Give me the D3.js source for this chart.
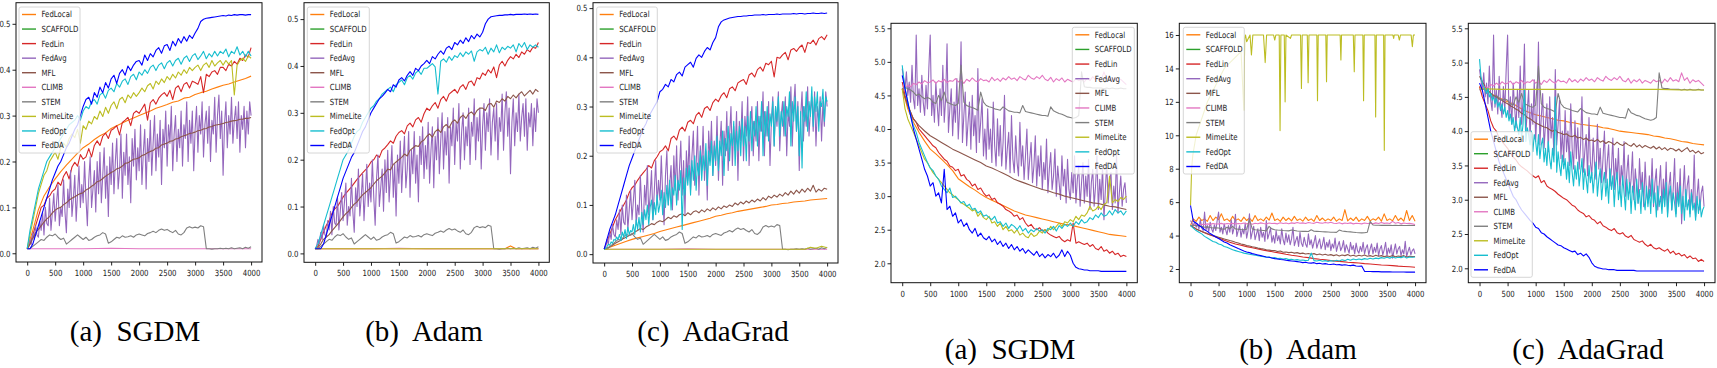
<!DOCTYPE html>
<html><head><meta charset="utf-8">
<script src="https://cdnjs.cloudflare.com/ajax/libs/d3/7.8.5/d3.min.js"></script>
<style>
body{margin:0;background:#fff}
svg{display:block}
.tick text{font-family:"DejaVu Sans",sans-serif;font-size:8.5px;fill:#222}
.leg text{font-family:"DejaVu Sans",sans-serif;font-size:8.5px;fill:#222}
.cap{font-family:"Liberation Serif","Times New Roman",serif;font-size:29px;fill:#000;white-space:pre}
</style></head>
<body><svg id="c" width="1717" height="368"></svg>
<script>
const methods = ["FedLocal","SCAFFOLD","FedLin","FedAvg","MFL","CLIMB","STEM","MimeLite","FedOpt","FedDA"];
const colors = ["#ff7f0e","#2ca02c","#d62728","#9467bd","#8c564b","#e377c2","#7f7f7f","#bcbd22","#17becf","#0000ff"];
const xTicks = [0,500,1000,1500,2000,2500,3000,3500,4000];
const accTicks = [0,0.1,0.2,0.3,0.4,0.5];
const lossTicks = [2,2.5,3,3.5,4,4.5,5,5.5];
const lossTicksWide = [2,4,6,8,10,12,14,16];
const captions = ["(a)  SGDM","(b)  Adam","(c)  AdaGrad"];
const lastIter = 4000;

// ---------- accuracy (shared across optimizers) ----------
const acc_FedAvg = [0.01,0.015,0.03,0.02,0.045,0.03,0.06,0.04,0.035,0.07,
0.05,0.09,0.04,0.1,0.065,0.06,0.12,0.05,0.09,0.13,
0.07,0.11,0.15,0.06,0.1,0.08,0.16,0.09,0.045,0.14,
0.1,0.18,0.08,0.12,0.17,0.07,0.13,0.19,0.1,0.15,
0.11,0.2,0.12,0.06,0.16,0.21,0.1,0.14,0.18,0.09,
0.2,0.13,0.22,0.11,0.17,0.23,0.12,0.19,0.08,0.21,
0.15,0.24,0.13,0.2,0.25,0.14,0.18,0.26,0.12,0.22,
0.17,0.26,0.15,0.21,0.11,0.25,0.19,0.27,0.16,0.23,
0.18,0.28,0.15,0.22,0.27,0.14,0.25,0.2,0.29,0.17,
0.24,0.3,0.18,0.26,0.21,0.29,0.15,0.27,0.23,0.31,
0.19,0.28,0.24,0.32,0.18,0.26,0.3,0.2,0.27,0.23,
0.31,0.19,0.28,0.25,0.33,0.2,0.29,0.24,0.31,0.18,
0.27,0.32,0.22,0.3,0.26,0.33,0.21,0.28,0.31,0.24,
0.32,0.2,0.29,0.26,0.34,0.22,0.3,0.345,0.25,0.31,
0.17,0.28,0.33,0.23,0.3,0.26,0.34,0.24,0.29,0.32,
0.25,0.33,0.22,0.3,0.27,0.32,0.23,0.31,0.26,0.33,0.3];
const acc_CLIMB = [0.01,0.01,0.01,0.011,0.01,0.01,0.01,0.01,0.01];
const acc_STEM = [0.01,0.01,0.015,0.02,0.025,0.03,0.028,0.035,0.04,0.038,
0.042,0.035,0.03,0.033,0.02,0.025,0.03,0.035,0.04,0.035,
0.03,0.035,0.028,0.03,0.035,0.038,0.04,0.045,0.042,0.022,
0.025,0.03,0.035,0.033,0.038,0.035,0.036,0.038,0.035,0.04,
0.042,0.04,0.038,0.043,0.045,0.048,0.045,0.05,0.053,0.05,
0.052,0.048,0.045,0.05,0.042,0.04,0.045,0.055,0.058,0.055,
0.057,0.055,0.06,0.058,0.01,0.01,0.009,0.01,0.01,0.011,
0.01,0.011,0.01,0.012,0.01,0.011,0.012,0.01,0.013,0.011,0.014];
const acc_Flat = [0.01,0.01,0.01,0.01,0.01];

// ---------- SGDM accuracy ----------
const sgdmAcc_FedLocal = [0.01,0.05,0.095,0.125,0.145,0.162,0.178,0.192,0.205,0.218,
0.23,0.238,0.248,0.256,0.262,0.272,0.278,0.284,0.29,0.295,
0.3,0.305,0.31,0.316,0.32,0.324,0.329,0.332,0.338,0.34,
0.346,0.35,0.353,0.358,0.362,0.366,0.369,0.373,0.377,0.381,0.386];
const sgdmAcc_FedLin = [0.01,0.02,0.04,0.06,0.08,0.1,0.105,0.12,0.125,0.135,
0.14,0.155,0.148,0.168,0.178,0.162,0.188,0.198,0.19,0.215,
0.205,0.21,0.228,0.21,0.235,0.245,0.235,0.255,0.262,0.25,
0.268,0.272,0.278,0.258,0.285,0.29,0.296,0.278,0.305,0.31,
0.305,0.315,0.325,0.29,0.328,0.335,0.325,0.338,0.345,0.35,
0.342,0.355,0.335,0.36,0.365,0.352,0.368,0.372,0.36,0.375,
0.372,0.368,0.385,0.35,0.39,0.385,0.395,0.398,0.39,0.405,
0.405,0.398,0.412,0.408,0.418,0.412,0.425,0.42,0.432,0.428,0.448];
const sgdmAcc_MFL = [0.01,0.02,0.033,0.045,0.052,0.06,0.068,0.075,0.08,0.088,
0.094,0.098,0.1,0.106,0.11,0.116,0.12,0.123,0.127,0.13,
0.132,0.138,0.141,0.146,0.15,0.156,0.158,0.163,0.168,0.172,
0.176,0.179,0.184,0.186,0.19,0.196,0.197,0.201,0.205,0.206,
0.208,0.213,0.215,0.219,0.222,0.224,0.229,0.23,0.236,0.238,
0.24,0.244,0.245,0.249,0.25,0.254,0.256,0.258,0.261,0.262,
0.264,0.267,0.268,0.271,0.272,0.275,0.276,0.279,0.28,0.281,
0.283,0.285,0.286,0.288,0.289,0.29,0.292,0.292,0.294,0.294,0.296];
const sgdmAcc_MimeLite = [0.01,0.04,0.07,0.1,0.13,0.15,0.17,0.18,0.2,0.21,
0.22,0.205,0.23,0.24,0.232,0.25,0.26,0.252,0.27,0.24,
0.278,0.27,0.288,0.282,0.298,0.292,0.31,0.298,0.318,0.305,
0.322,0.33,0.315,0.335,0.34,0.328,0.345,0.338,0.35,0.342,
0.35,0.36,0.352,0.365,0.37,0.358,0.375,0.368,0.38,0.372,
0.385,0.378,0.39,0.382,0.395,0.388,0.4,0.392,0.405,0.398,
0.405,0.41,0.398,0.41,0.415,0.405,0.42,0.408,0.415,0.42,
0.41,0.42,0.412,0.42,0.345,0.41,0.42,0.425,0.418,0.43,0.425];
const sgdmAcc_FedOpt = [0.01,0.05,0.08,0.11,0.14,0.16,0.18,0.2,0.21,0.22,
0.23,0.24,0.25,0.26,0.27,0.28,0.285,0.29,0.3,0.29,
0.31,0.32,0.315,0.33,0.335,0.325,0.345,0.35,0.338,0.355,
0.36,0.352,0.37,0.362,0.375,0.38,0.368,0.385,0.39,0.378,
0.395,0.388,0.4,0.392,0.405,0.41,0.398,0.41,0.415,0.402,
0.415,0.42,0.408,0.42,0.425,0.412,0.425,0.43,0.418,0.43,
0.435,0.422,0.43,0.44,0.424,0.435,0.428,0.44,0.43,0.44,
0.435,0.445,0.428,0.44,0.435,0.45,0.432,0.44,0.428,0.44,0.43];
const sgdmAcc_FedDA = [0.01,0.01,0.02,0.04,0.06,0.08,0.1,0.12,0.14,0.16,
0.175,0.19,0.2,0.215,0.23,0.24,0.255,0.27,0.28,0.3,
0.32,0.335,0.34,0.325,0.35,0.34,0.362,0.35,0.372,0.36,
0.38,0.388,0.37,0.392,0.4,0.388,0.408,0.398,0.41,0.418,
0.42,0.41,0.432,0.42,0.435,0.428,0.442,0.448,0.436,0.452,
0.455,0.442,0.462,0.452,0.468,0.458,0.472,0.462,0.475,0.468,
0.48,0.49,0.505,0.51,0.512,0.513,0.514,0.515,0.516,0.517,
0.518,0.517,0.519,0.518,0.52,0.519,0.52,0.52,0.519,0.52,0.52];

// ---------- Adam accuracy ----------
const adamAcc_FedLocal = [0.01,0.01,0.01,0.01,0.01,0.01,0.01,0.01,0.01,0.01,
0.01,0.01,0.01,0.01,0.01,0.01,0.01,0.01,0.01,0.01,
0.01,0.01,0.01,0.01,0.01,0.01,0.01,0.01,0.01,0.01,
0.01,0.01,0.01,0.01,0.01,0.016,0.01,0.01,0.01,0.01,0.01];
const adamAcc_FedLin = [0.01,0.015,0.03,0.045,0.06,0.07,0.085,0.095,0.1,0.11,
0.12,0.128,0.135,0.142,0.15,0.158,0.165,0.172,0.178,0.185,
0.195,0.2,0.21,0.205,0.22,0.225,0.232,0.24,0.235,0.25,
0.258,0.262,0.255,0.272,0.278,0.27,0.285,0.29,0.28,0.298,
0.31,0.305,0.315,0.322,0.31,0.328,0.335,0.325,0.34,0.345,
0.35,0.342,0.355,0.36,0.35,0.365,0.368,0.358,0.375,0.372,
0.385,0.38,0.392,0.385,0.398,0.375,0.402,0.41,0.4,0.412,
0.42,0.415,0.425,0.418,0.43,0.425,0.435,0.43,0.44,0.438,0.45];
const adamAcc_MFL = [0.01,0.012,0.02,0.03,0.035,0.04,0.048,0.055,0.062,0.07,
0.078,0.085,0.09,0.098,0.105,0.11,0.118,0.125,0.13,0.135,
0.14,0.148,0.155,0.16,0.165,0.172,0.18,0.178,0.19,0.195,
0.2,0.205,0.212,0.208,0.22,0.225,0.23,0.228,0.238,0.242,
0.25,0.255,0.248,0.26,0.265,0.258,0.27,0.275,0.268,0.28,
0.285,0.278,0.29,0.295,0.288,0.298,0.302,0.295,0.305,0.31,
0.31,0.305,0.318,0.32,0.312,0.325,0.322,0.33,0.325,0.335,
0.33,0.338,0.332,0.34,0.345,0.336,0.342,0.348,0.34,0.35,0.345];
const adamAcc_FedOpt = [0.01,0.02,0.04,0.06,0.08,0.1,0.12,0.14,0.16,0.18,
0.2,0.21,0.22,0.235,0.25,0.26,0.265,0.28,0.29,0.3,
0.31,0.315,0.325,0.33,0.34,0.345,0.35,0.355,0.345,0.36,
0.365,0.37,0.36,0.375,0.38,0.372,0.385,0.39,0.382,0.395,
0.395,0.4,0.405,0.398,0.34,0.41,0.415,0.408,0.42,0.412,
0.422,0.418,0.428,0.42,0.43,0.425,0.432,0.41,0.43,0.435,
0.432,0.44,0.425,0.438,0.43,0.445,0.428,0.44,0.435,0.442,
0.438,0.445,0.43,0.448,0.44,0.45,0.435,0.445,0.44,0.445,0.44];
const adamAcc_FedDA = [0.01,0.01,0.01,0.02,0.04,0.06,0.08,0.1,0.12,0.14,
0.16,0.175,0.19,0.205,0.215,0.23,0.245,0.26,0.27,0.285,
0.3,0.31,0.32,0.33,0.335,0.342,0.35,0.345,0.36,0.355,
0.37,0.375,0.368,0.38,0.388,0.38,0.395,0.39,0.4,0.405,
0.412,0.405,0.42,0.415,0.425,0.432,0.425,0.438,0.442,0.435,
0.45,0.445,0.455,0.448,0.46,0.452,0.465,0.458,0.468,0.462,
0.472,0.49,0.5,0.505,0.506,0.507,0.508,0.508,0.509,0.509,
0.51,0.509,0.51,0.51,0.51,0.511,0.51,0.511,0.51,0.511,0.51];

// ---------- AdaGrad accuracy ----------
const adagradAcc_FedLocal = [0.01,0.014,0.018,0.022,0.026,0.03,0.033,0.036,0.039,0.042,
0.046,0.049,0.052,0.055,0.058,0.061,0.064,0.067,0.07,0.073,
0.077,0.079,0.082,0.084,0.087,0.089,0.091,0.093,0.095,0.097,
0.1,0.101,0.103,0.104,0.106,0.107,0.108,0.11,0.111,0.112,0.113];
const adagradAcc_FedLin = [0.01,0.025,0.04,0.055,0.07,0.08,0.09,0.1,0.11,0.125,
0.135,0.14,0.15,0.158,0.165,0.172,0.18,0.175,0.19,0.198,
0.208,0.212,0.22,0.21,0.235,0.24,0.232,0.252,0.258,0.25,
0.268,0.272,0.265,0.282,0.288,0.278,0.296,0.3,0.292,0.308,
0.315,0.31,0.322,0.328,0.318,0.336,0.34,0.332,0.348,0.352,
0.355,0.345,0.364,0.368,0.36,0.375,0.38,0.372,0.388,0.385,
0.392,0.36,0.4,0.398,0.405,0.41,0.395,0.415,0.418,0.412,
0.42,0.425,0.41,0.43,0.428,0.435,0.425,0.438,0.442,0.436,0.446];
const adagradAcc_MFL = [0.01,0.012,0.015,0.018,0.022,0.025,0.028,0.032,0.035,0.038,
0.04,0.045,0.048,0.052,0.05,0.055,0.058,0.062,0.06,0.065,
0.068,0.066,0.07,0.075,0.072,0.078,0.075,0.08,0.082,0.078,
0.084,0.08,0.086,0.088,0.084,0.09,0.086,0.092,0.088,0.094,
0.09,0.096,0.092,0.098,0.095,0.1,0.097,0.104,0.1,0.106,
0.102,0.108,0.104,0.11,0.106,0.112,0.108,0.115,0.11,0.118,
0.114,0.12,0.116,0.122,0.118,0.125,0.12,0.128,0.122,0.13,
0.124,0.132,0.126,0.134,0.128,0.14,0.126,0.132,0.128,0.134,0.132];
const adagradAcc_MimeLite = [0.01,0.01,0.01,0.01,0.01,0.01,0.01,0.01,0.01,0.01,
0.01,0.01,0.01,0.01,0.01,0.01,0.01,0.01,0.01,0.01,
0.01,0.01,0.01,0.01,0.01,0.01,0.01,0.01,0.01,0.01,
0.01,0.01,0.01,0.01,0.01,0.01,0.01,0.014,0.012,0.016,0.013];
const adagradAcc_FedOpt = [0.01,0.012,0.015,0.02,0.018,0.025,0.022,0.03,0.028,0.035,
0.03,0.04,0.028,0.045,0.035,0.05,0.032,0.055,0.04,0.048,
0.045,0.06,0.04,0.07,0.05,0.075,0.045,0.085,0.06,0.09,
0.07,0.1,0.06,0.095,0.11,0.07,0.105,0.08,0.12,0.085,
0.1,0.13,0.08,0.125,0.095,0.14,0.1,0.15,0.09,0.135,
0.12,0.16,0.1,0.15,0.13,0.17,0.05,0.155,0.12,0.175,
0.14,0.18,0.12,0.19,0.15,0.2,0.13,0.185,0.16,0.21,
0.15,0.2,0.17,0.225,0.14,0.21,0.18,0.23,0.16,0.22,
0.19,0.24,0.17,0.23,0.2,0.25,0.16,0.235,0.21,0.26,
0.19,0.245,0.22,0.27,0.18,0.25,0.21,0.26,0.2,0.275,
0.22,0.26,0.19,0.28,0.23,0.29,0.21,0.27,0.24,0.3,
0.22,0.28,0.25,0.31,0.2,0.29,0.24,0.3,0.23,0.285,
0.26,0.31,0.22,0.3,0.27,0.32,0.24,0.29,0.26,0.31,
0.24,0.3,0.28,0.33,0.22,0.31,0.27,0.32,0.25,0.3,
0.2,0.29,0.175,0.3,0.27,0.33,0.25,0.31,0.28,0.34,
0.26,0.32,0.29,0.33,0.25,0.31,0.3,0.335,0.27,0.32,0.31];
const adagradAcc_FedDA = [0.01,0.03,0.05,0.065,0.08,0.1,0.12,0.14,0.16,0.18,
0.195,0.21,0.225,0.24,0.255,0.265,0.28,0.29,0.3,0.31,
0.33,0.335,0.345,0.34,0.355,0.35,0.365,0.37,0.362,0.38,
0.385,0.39,0.38,0.398,0.405,0.4,0.412,0.42,0.415,0.43,
0.44,0.462,0.472,0.476,0.478,0.48,0.481,0.482,0.483,0.483,
0.484,0.484,0.485,0.485,0.486,0.486,0.486,0.487,0.486,0.487,
0.487,0.487,0.488,0.487,0.488,0.488,0.488,0.488,0.489,0.488,
0.489,0.489,0.488,0.489,0.489,0.49,0.489,0.489,0.49,0.489,0.49];

// ---------- loss (shared across optimizers) ----------
const loss_FedAvg = [4.9,4.75,4.6,4.85,4.5,4.7,4.4,4.95,4.45,4.3,
5.4,4.35,4.6,4.25,4.8,4.4,4.2,4.65,4.3,4.9,
5.4,4.2,4.5,4.1,4.7,4.35,4.05,4.6,4.2,4.95,
4.1,4.45,5.27,3.95,4.3,4.6,3.9,4.4,4.1,4.75,
3.85,4.3,5.3,3.8,4.2,4.55,3.75,4.1,4.4,3.7,
4.5,3.9,4.2,3.65,4.9,3.8,4.1,4.45,3.6,4.0,
3.55,4.3,3.7,4.0,3.5,4.4,3.75,3.45,4.15,3.6,
4.05,3.45,3.8,4.5,3.4,3.7,3.95,3.35,4.2,3.55,
3.35,3.9,3.5,3.3,4.1,3.45,3.75,3.25,3.6,4.0,
3.25,3.55,3.8,3.2,3.45,3.9,3.15,3.6,3.3,3.75,
3.1,3.5,3.25,3.85,3.05,3.4,3.65,3.1,3.3,3.7,
3.0,3.45,3.2,2.95,3.6,3.15,3.4,2.9,3.55,3.1,
2.95,3.35,3.05,3.6,2.9,3.25,3.45,2.85,3.2,3.5,
2.9,3.3,3.0,3.55,2.8,3.2,3.4,2.85,3.15,3.6,
2.8,3.25,2.95,3.45,2.65,3.1,3.5,2.9,3.2,3.35,
2.8,3.15,2.9,3.65,2.75,3.05,3.3,2.85,3.1,3.2,2.9];
const loss_CLIMB = [4.6,4.62,4.65,4.63,4.68,4.66,4.7,4.67,4.72,4.69,
4.7,4.73,4.68,4.72,4.7,4.74,4.69,4.72,4.71,4.75,
4.7,4.73,4.68,4.74,4.71,4.76,4.72,4.7,4.75,4.72,
4.73,4.7,4.77,4.72,4.75,4.71,4.76,4.73,4.78,4.74,
4.76,4.72,4.78,4.75,4.73,4.8,4.76,4.74,4.78,4.75,
4.8,4.74,4.72,4.77,4.7,4.75,4.72,4.76,4.7,4.74,
4.72,4.7,4.75,4.72,4.74,4.7,4.76,4.72,4.78,4.73,
4.75,4.72,4.85,4.74,4.78,4.7,4.75,4.72,4.74,4.7,4.66];
const loss_STEM = [4.6,4.62,4.6,4.58,4.55,4.5,4.52,4.48,4.45,4.47,
4.45,4.4,4.38,4.5,4.42,4.55,4.4,4.38,4.36,4.35,
4.38,4.95,4.4,4.35,4.33,4.32,4.3,4.28,4.55,4.4,
4.35,4.33,4.32,4.3,4.29,4.28,4.33,4.3,4.27,4.26,
4.25,4.25,4.24,4.35,4.26,4.25,4.24,4.23,4.22,4.21,
4.2,4.2,4.19,4.33,4.27,4.25,4.23,4.22,4.2,4.18,
4.17,4.16,4.17,4.2,4.85,4.63,4.62,4.62,4.61,4.61,
4.61,4.61,4.6,4.61,4.6,4.61,4.6,4.6,4.61,4.6,4.6];

// ---------- SGDM loss ----------
const sgdmLoss_FedLocal = [4.6,4.3,4.1,3.95,3.82,3.7,3.63,3.55,3.47,3.38,
3.26,3.2,3.14,3.09,3.03,2.98,2.94,2.9,2.86,2.82,
2.78,2.75,2.72,2.7,2.68,2.66,2.64,2.62,2.6,2.58,
2.57,2.55,2.53,2.51,2.49,2.47,2.45,2.43,2.42,2.41,2.4];
const sgdmLoss_FedLin = [4.7,4.5,4.35,4.25,4.15,4.1,4.0,3.95,3.9,3.85,
3.8,3.75,3.72,3.65,3.6,3.55,3.52,3.45,3.43,3.38,
3.4,3.3,3.32,3.25,3.22,3.15,3.18,3.1,3.12,3.05,
3.0,3.02,2.95,2.97,2.9,2.88,2.85,2.8,2.78,2.75,
2.7,2.72,2.65,2.68,2.6,2.55,2.58,2.52,2.5,2.53,
2.48,2.5,2.45,2.42,2.4,2.38,2.4,2.35,2.32,2.35,
2.33,2.6,2.3,2.32,2.3,2.28,2.3,2.25,2.28,2.22,
2.2,2.25,2.18,2.2,2.15,2.18,2.13,2.15,2.1,2.12,2.1];
const sgdmLoss_MFL = [4.6,4.35,4.15,4.05,3.97,3.9,3.85,3.8,3.75,3.7,
3.66,3.62,3.58,3.54,3.5,3.45,3.42,3.38,3.34,3.3,
3.25,3.22,3.19,3.16,3.13,3.1,3.08,3.05,3.03,3.0,
2.98,2.96,2.94,2.92,2.9,2.89,2.87,2.85,2.84,2.82,2.8];
const sgdmLoss_MimeLite = [4.6,4.3,4.15,4.05,3.95,3.85,3.75,3.65,3.55,3.5,
3.42,3.35,3.3,3.25,3.2,3.15,3.1,3.05,3.02,2.98,
2.95,2.9,2.88,2.85,2.82,2.78,2.8,2.7,2.75,2.68,
2.65,2.7,2.6,2.62,2.55,2.6,2.5,2.55,2.48,2.5,
2.45,2.5,2.42,2.45,2.4,2.38,2.45,2.4,2.42,2.48,
2.45,2.5,2.48,2.55,2.5,2.55,2.6,2.55,2.62,2.6,
2.65,2.62,2.7,2.65,2.72,2.7,2.75,2.85,2.78,2.8,
2.85,2.8,2.88,2.9,3.3,2.9,2.95,2.92,2.98,2.95,3.0];
const sgdmLoss_FedOpt = [4.95,4.6,4.4,4.2,4.05,3.95,3.8,3.7,3.6,3.5,
3.42,3.38,3.3,3.25,3.15,3.1,3.05,3.12,2.98,3.0,
2.95,2.9,2.92,2.85,2.88,2.8,2.82,2.75,2.78,2.7,
2.72,2.68,2.65,2.7,2.6,2.62,2.55,2.6,2.52,2.58,
2.55,2.5,2.56,2.48,2.52,2.45,2.5,2.47,2.52,2.48,
2.5,2.45,2.52,2.5,2.55,2.48,2.56,2.52,2.58,2.55,
2.6,2.55,2.62,2.58,2.65,2.6,2.62,2.68,2.65,2.72,
2.68,2.75,2.7,2.72,2.78,2.72,2.8,2.75,2.78,2.72,2.78];
const sgdmLoss_FedDA = [4.8,4.6,4.4,4.2,4.0,3.85,3.7,3.55,3.4,3.3,
3.15,3.2,3.0,3.05,2.9,3.4,2.8,2.85,2.7,2.75,
2.6,2.65,2.55,2.6,2.5,2.45,2.52,2.4,2.45,2.38,
2.35,2.4,2.32,2.36,2.28,2.33,2.25,2.3,2.22,2.28,
2.2,2.25,2.18,2.22,2.15,2.2,2.16,2.12,2.18,2.1,
2.14,2.08,2.13,2.1,2.15,2.08,2.12,2.2,2.1,2.18,
2.12,2.0,1.94,1.92,1.91,1.9,1.9,1.89,1.89,1.89,
1.89,1.88,1.88,1.88,1.88,1.88,1.88,1.88,1.88,1.88,1.88];

// ---------- Adam loss ----------
const adamLoss_FedLocal = [4.6,5.0,4.85,5.1,4.9,5.0,4.85,5.2,4.9,5.1,
4.95,5.3,4.9,5.0,4.85,5.15,4.9,5.0,4.85,5.1,
4.9,5.05,4.85,5.2,4.9,5.0,4.88,5.1,4.92,5.35,
4.9,5.0,4.85,5.1,4.9,5.05,4.88,5.15,4.9,5.0,
4.86,5.1,4.9,5.0,4.85,5.2,4.9,5.05,4.88,5.0,
4.9,5.1,4.86,5.0,4.9,5.55,4.88,5.05,4.9,5.1,
4.85,5.0,4.9,5.15,4.88,5.0,4.92,5.1,4.86,5.3,
4.9,5.0,4.88,5.2,4.9,5.05,4.86,5.5,4.9,5.2,4.85];
const adamLoss_FedLin = [4.6,4.4,4.25,4.1,3.98,3.85,3.72,3.6,3.5,3.42,
3.34,3.27,3.2,3.13,3.07,3.0,2.95,2.88,2.82,2.78,
2.72,2.68,2.62,2.58,2.55,2.5,2.47,2.44,2.4,2.38,
2.36,2.32,2.3,2.27,2.24,2.22,2.2,2.17,2.15,2.13,2.1];
const adamLoss_MFL = [4.6,4.5,4.4,4.32,4.25,4.18,4.12,4.05,4.0,3.95,
3.9,3.85,3.8,3.75,3.7,3.66,3.6,3.56,3.5,3.46,
3.4,3.38,3.33,3.3,3.25,3.22,3.2,3.15,3.13,3.1,
3.1,3.05,3.08,3.0,3.02,2.98,3.0,2.95,2.98,2.92,
2.95,2.9,2.93,2.88,2.92,2.85,2.9,2.84,2.88,2.82,
2.86,2.8,2.85,2.78,2.84,2.8,2.86,2.78,2.82,2.76,
2.82,2.78,2.84,2.76,2.8,2.75,2.82,2.76,2.8,2.74,
2.78,2.75,2.8,2.73,2.78,2.74,2.8,2.72,2.76,2.74,2.75];
const adamLoss_MimeLiteIter = [0,20,40,100,300,600,900,950,965,980,1000,1060,1085,1110,1300,1330,1355,1480,1500,1520,1580,1595,1610,1670,1685,1700,1780,1800,1820,1960,1976,1990,2080,2095,2110,2250,2262,2275,2410,2423,2435,2665,2679,2690,2900,2917,2930,3070,3083,3095,3285,3298,3310,3440,3452,3465,3605,3619,3630,3700,3720,3740,3930,3952,3970,4000];
const adamLoss_MimeLite = [5.8,8.0,8.8,10,12,14,15,11.5,15.8,16.0,15.6,16.0,14.8,16.0,16.0,14.35,16.0,16.0,15.7,16.0,16.0,10.28,16.0,16.0,12.0,16.0,15.8,16.0,16.0,16.0,12.8,16.0,16.0,13.15,16.0,16.0,12.07,16.0,16.0,13.2,16.0,16.0,14.5,16.0,16.0,13.8,16.0,16.0,12.07,16.0,16.0,11.1,16.0,16.0,9.1,16.0,16.0,15.8,16.0,16.0,15.7,16.0,16.0,15.3,16.0,16.0];
const adamLoss_FedOpt = [4.6,4.45,4.3,4.2,4.1,3.95,3.85,3.75,3.65,3.6,
3.5,3.45,3.35,3.3,3.22,3.15,3.1,3.05,3.0,2.95,
2.92,2.88,2.85,2.82,2.8,2.76,2.74,2.7,2.72,2.66,
2.68,2.62,2.64,2.6,2.62,2.56,2.58,2.54,2.56,2.52,
2.54,2.5,2.52,2.95,2.5,2.48,2.52,2.46,2.5,2.45,
2.5,2.46,2.52,2.48,2.55,2.5,2.58,2.52,2.6,2.55,
2.6,2.56,2.62,2.58,2.64,2.6,2.65,2.62,2.68,2.64,
2.7,2.65,2.72,2.66,2.7,2.68,2.74,2.66,2.72,2.7,2.72];
const adamLoss_FedDA = [5.8,4.85,4.75,4.6,4.5,4.35,4.25,4.12,4.02,3.92,
3.82,3.72,3.62,3.55,3.45,3.38,3.3,3.22,3.15,3.08,
3.02,2.98,2.92,2.88,2.84,2.8,2.76,2.72,2.7,2.66,
2.62,2.6,2.57,2.55,2.52,2.5,2.48,2.46,2.44,2.42,
2.38,2.4,2.36,2.35,2.38,2.32,2.34,2.3,2.32,2.28,
2.27,2.3,2.25,2.26,2.23,2.25,2.22,2.2,2.23,2.18,
2.16,2.18,1.86,1.85,1.85,1.84,1.84,1.84,1.83,1.83,
1.83,1.83,1.82,1.82,1.82,1.82,1.82,1.81,1.81,1.81,1.81];

// ---------- AdaGrad loss ----------
const adagradLoss_FedLocal = [4.65,4.62,4.55,4.5,4.47,4.43,4.4,4.35,4.3,4.27,
4.24,4.22,4.2,4.18,4.16,4.15,4.13,4.12,4.1,4.09,
4.08,4.07,4.05,4.04,4.02,4.0,3.99,3.98,3.97,3.96,
3.95,3.93,3.92,3.9,3.89,3.87,3.85,3.84,3.82,3.81,3.8];
const adagradLoss_FedLin = [4.65,4.5,4.4,4.3,4.15,4.05,4.0,3.9,3.85,3.8,
3.75,3.68,3.62,3.58,3.52,3.48,3.45,3.42,3.38,3.35,
3.32,3.35,3.25,3.28,3.2,3.17,3.15,3.12,3.08,3.05,
3.02,3.0,2.96,2.92,2.9,2.85,2.82,2.8,2.75,2.77,
2.72,2.7,2.65,2.68,2.62,2.6,2.57,2.55,2.58,2.52,
2.5,2.52,2.47,2.45,2.48,2.42,2.4,2.38,2.4,2.35,
2.32,2.35,2.3,2.28,2.3,2.27,2.25,2.28,2.22,2.25,
2.2,2.22,2.18,2.2,2.15,2.18,2.14,2.15,2.1,2.13,2.1];
const adagradLoss_MFL = [4.8,4.72,4.65,4.6,4.55,4.52,4.5,4.47,4.45,4.42,
4.4,4.37,4.35,4.32,4.3,4.26,4.24,4.2,4.18,4.15,
4.12,4.1,4.08,4.06,4.05,4.02,4.0,4.02,3.98,3.97,
3.95,3.96,3.93,3.92,3.94,3.9,3.91,3.88,3.9,3.86,
3.87,3.85,3.88,3.84,3.86,3.82,3.85,3.83,3.8,3.84,
3.81,3.79,3.83,3.8,3.78,3.82,3.77,3.8,3.76,3.79,
3.77,3.75,3.78,3.74,3.77,3.73,3.76,3.72,3.75,3.74,
3.71,3.74,3.7,3.73,3.76,3.7,3.72,3.68,3.71,3.67,3.69];
const adagradLoss_MimeLite = [4.62,4.61,4.61,4.61,4.61,4.61,4.61,4.61,4.61,4.6,4.6];
const adagradLoss_FedOpt = [5.05,4.8,4.7,4.65,4.6,4.55,4.62,4.5,4.55,4.45,
4.5,4.4,4.48,4.35,4.42,4.3,4.4,4.25,4.35,4.2,
4.3,4.15,4.25,4.1,4.2,4.0,4.15,4.05,3.95,4.2,
3.9,4.1,4.6,3.85,4.05,3.95,3.8,4.0,3.7,3.95,
3.85,3.65,3.95,3.6,3.8,3.9,3.55,3.75,3.5,3.85,
3.6,3.45,3.75,3.55,4.5,3.4,3.7,3.5,3.35,3.65,
3.45,3.6,3.3,3.55,3.25,3.7,3.4,3.2,3.5,3.3,
3.55,3.2,3.4,3.6,3.15,3.45,3.3,3.1,3.5,3.25,
3.4,3.1,3.35,3.55,3.05,3.3,3.45,3.0,3.25,3.4,
3.05,3.3,2.95,3.45,3.15,3.35,2.9,3.25,3.4,3.0,
3.2,2.9,3.35,3.1,2.85,3.3,3.0,3.25,2.8,3.2,
3.05,2.85,3.3,2.95,3.15,2.8,3.25,3.0,2.85,3.2,
2.9,3.15,2.8,3.3,2.95,3.1,2.75,3.2,2.9,3.05,
2.8,3.15,2.9,3.25,2.75,3.05,3.2,2.85,3.1,2.95,
2.75,3.1,2.9,3.2,2.8,3.05,2.7,3.15,2.85,3.0,
2.75,3.1,2.85,2.95,2.7,3.05,2.8,3.0,2.75,2.85,2.9];
const adagradLoss_FedDA = [4.7,4.6,4.4,4.2,4.0,3.85,3.7,3.55,3.45,3.35,
3.25,3.15,3.05,3.0,2.92,2.85,2.8,2.75,2.7,2.66,
2.6,2.58,2.52,2.5,2.46,2.43,2.4,2.37,2.34,2.33,
2.3,2.28,2.26,2.24,2.25,2.2,2.22,2.18,2.21,2.16,
2.08,2.03,2.01,2.0,1.99,1.99,1.98,1.98,1.98,1.97,
1.97,1.97,1.97,1.97,1.97,1.97,1.96,1.96,1.96,1.96,
1.96,1.96,1.96,1.96,1.96,1.96,1.96,1.96,1.96,1.96,
1.96,1.96,1.96,1.96,1.96,1.96,1.96,1.96,1.96,1.96,1.96];

// ---------- panel layout ----------
const panels = [
 {L:16,R:262,T:2.7,B:262,yDom:[-0.019,0.546],ticks:accTicks,fmt:".1f",leg:[19,7,61,146],capX:135,capY:341,
  s:[sgdmAcc_FedLocal,null,sgdmAcc_FedLin,acc_FedAvg,sgdmAcc_MFL,acc_CLIMB,acc_STEM,sgdmAcc_MimeLite,sgdmAcc_FedOpt,sgdmAcc_FedDA],cap:0},
 {L:304,R:549.3,T:2.7,B:262.3,yDom:[-0.019,0.535],ticks:accTicks,fmt:".1f",leg:[307.3,7,62,146],capX:424,capY:341,
  s:[adamAcc_FedLocal,null,adamAcc_FedLin,acc_FedAvg,adamAcc_MFL,acc_CLIMB,acc_STEM,acc_Flat,adamAcc_FedOpt,adamAcc_FedDA],cap:1},
 {L:593,R:838,T:2.7,B:263,yDom:[-0.018,0.511],ticks:accTicks,fmt:".1f",leg:[596.7,7,60.6,146],capX:713,capY:341,
  s:[adagradAcc_FedLocal,null,adagradAcc_FedLin,acc_FedAvg,adagradAcc_MFL,acc_CLIMB,acc_STEM,adagradAcc_MimeLite,adagradAcc_FedOpt,adagradAcc_FedDA],cap:2},
 {L:891,R:1137.3,T:23.3,B:282.7,yDom:[1.711,5.574],ticks:lossTicks,fmt:".1f",leg:[1072.3,27.3,62,146.7],capX:1010,capY:359,
  s:[sgdmLoss_FedLocal,null,sgdmLoss_FedLin,loss_FedAvg,sgdmLoss_MFL,loss_CLIMB,loss_STEM,sgdmLoss_MimeLite,sgdmLoss_FedOpt,sgdmLoss_FedDA],cap:0},
 {L:1179.3,R:1426,T:23.3,B:282.7,yDom:[1.18,16.7],ticks:lossTicksWide,fmt:"d",leg:[1183.3,27.3,61,146.7],capX:1298,capY:359,
  s:[adamLoss_FedLocal,null,adamLoss_FedLin,loss_FedAvg,adamLoss_MFL,loss_CLIMB,loss_STEM,{x:adamLoss_MimeLiteIter,y:adamLoss_MimeLite},adamLoss_FedOpt,adamLoss_FedDA],cap:1},
 {L:1468.3,R:1715,T:23.3,B:282.7,yDom:[1.79,5.573],ticks:lossTicks,fmt:".1f",leg:[1471,131.7,61.3,145.6],capX:1588,capY:359,
  s:[adagradLoss_FedLocal,null,adagradLoss_FedLin,loss_FedAvg,adagradLoss_MFL,loss_CLIMB,loss_STEM,adagradLoss_MimeLite,adagradLoss_FedOpt,adagradLoss_FedDA],cap:2}
];

const svg = d3.select("#c");
const SX = 0.82;
panels.forEach((p, pi) => {
  const x = d3.scaleLinear().domain([-200, 4195]).range([p.L, p.R]);
  const y = d3.scaleLinear().domain(p.yDom).range([p.B, p.T]);
  const cid = "clip" + pi;
  svg.append("clipPath").attr("id", cid).append("rect")
    .attr("x", p.L).attr("y", p.T).attr("width", p.R - p.L).attr("height", p.B - p.T);
  const gl = svg.append("g").attr("clip-path", `url(#${cid})`);
  const line = d3.line().x(d => x(d[0])).y(d => y(d[1]));
  p.s.forEach((s, k) => {
    if (!s) return;
    const pts = Array.isArray(s) ? s.map((v, j) => [j * lastIter / (s.length - 1), v]) : s.x.map((xx, j) => [xx, s.y[j]]);
    gl.append("path").attr("d", line(pts)).attr("fill", "none")
      .attr("stroke", colors[k]).attr("stroke-width", 1.1).attr("stroke-linejoin", "round");
  });
  const ax = svg.append("g").attr("transform", `translate(0,${p.B})`)
    .call(d3.axisBottom(x).tickValues(xTicks).tickSize(3.5).tickPadding(4.5).tickFormat(d3.format("d")));
  ax.select(".domain").remove();
  ax.selectAll(".tick line").attr("stroke", "#222");
  ax.selectAll(".tick text").attr("transform", `scale(${SX},1)`);
  const ay = svg.append("g").attr("transform", `translate(${p.L},0)`)
    .call(d3.axisLeft(y).tickValues(p.ticks).tickSize(3.5).tickFormat(d3.format(p.fmt)));
  ay.select(".domain").remove();
  ay.selectAll(".tick line").attr("stroke", "#222");
  ay.selectAll(".tick text").attr("x", -5.5 / SX).attr("transform", `scale(${SX},1)`);
  svg.append("rect").attr("x", p.L).attr("y", p.T).attr("width", p.R - p.L).attr("height", p.B - p.T)
    .attr("fill", "none").attr("stroke", "#111").attr("stroke-width", 1);
  const [lx, ly, lw, lh] = p.leg;
  const lg = svg.append("g").attr("class", "leg");
  lg.append("rect").attr("x", lx).attr("y", ly).attr("width", lw).attr("height", lh).attr("rx", 2)
    .attr("fill", "#fff").attr("fill-opacity", 0.8).attr("stroke", "#cccccc").attr("stroke-width", 0.8);
  const step = (lh - 15) / 9;
  methods.forEach((m, k) => {
    const yy = ly + 7.5 + k * step;
    lg.append("line").attr("x1", lx + 3).attr("x2", lx + 17).attr("y1", yy).attr("y2", yy)
      .attr("stroke", colors[k]).attr("stroke-width", 1.4);
    lg.append("text").attr("x", (lx + 22.5) / SX).attr("y", yy).attr("dy", "0.35em")
      .attr("transform", `scale(${SX},1)`).text(m);
  });
  svg.append("text").attr("class", "cap").attr("x", p.capX).attr("y", p.capY)
    .attr("text-anchor", "middle").text(captions[p.cap]);
});
</script></body></html>
